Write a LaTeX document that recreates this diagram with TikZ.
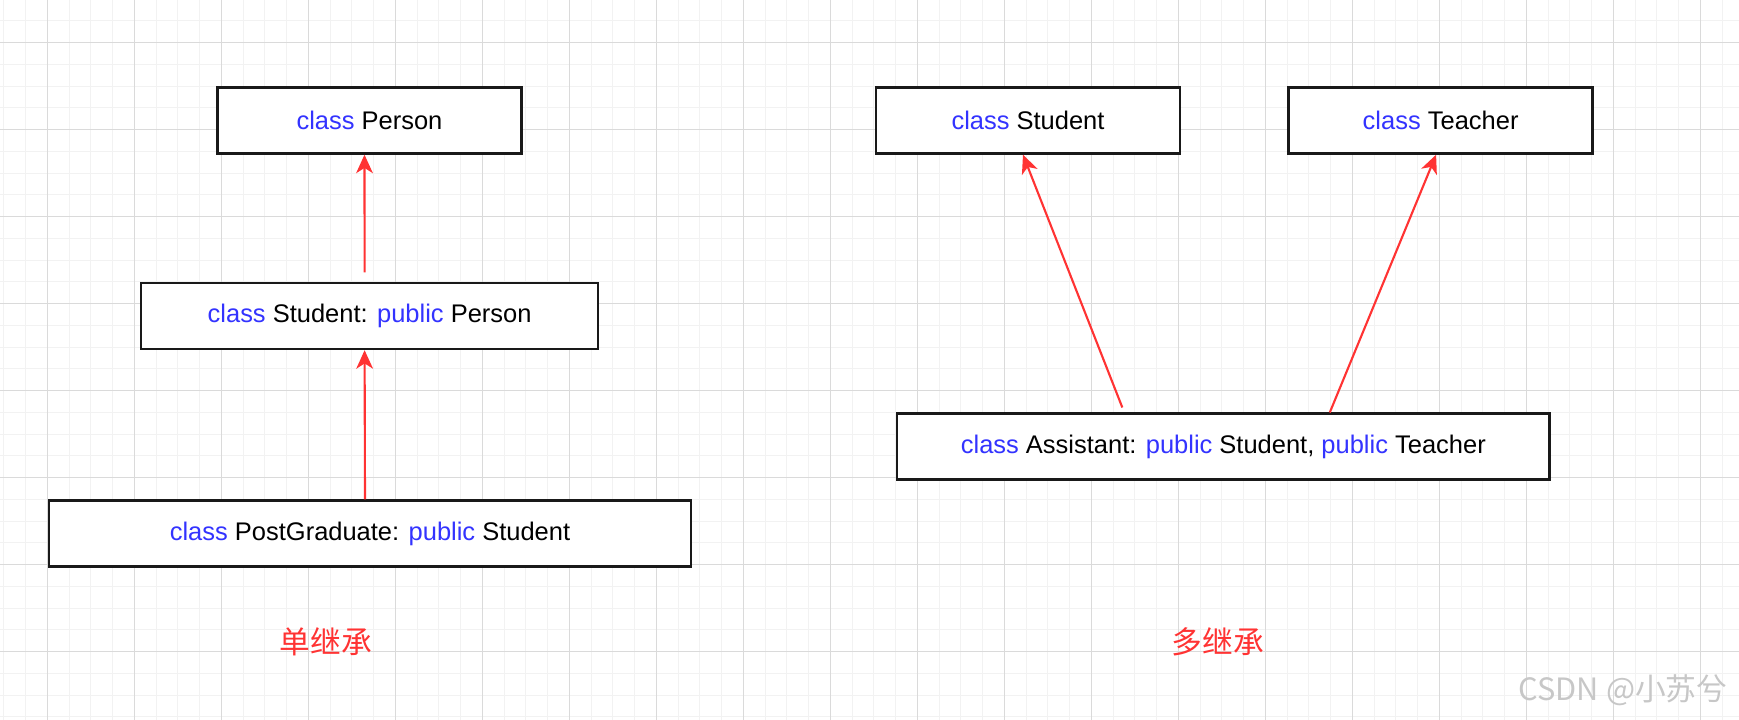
\documentclass[tikz,border=0pt]{standalone}
\usepackage{fontspec}
\setmainfont{Liberation Sans}
\newfontfamily\cjk{Noto Sans CJK SC}
\usetikzlibrary{arrows.meta}
\definecolor{kwblue}{HTML}{3333FF}
\definecolor{inhred}{HTML}{FF3333}
\definecolor{gridminor}{HTML}{F2F2F2}
\definecolor{gridmajor}{HTML}{DADADA}
\newcommand{\kw}[1]{\textcolor{kwblue}{#1}}

\begin{document}
\begin{tikzpicture}[
    x=0.02cm, y=-0.02cm,
    cls/.style={
        rectangle,
        minimum width=#1,
        minimum height=1.32cm,
        draw=black!90,
        line width=1.4pt,
        fill=white,
        inner sep=0pt,
        font=\fontsize{14.5pt}{17pt}\selectfont
    },
    inh/.style={-{Stealth[length=10.5pt, width=9.5pt, inset=3pt]}, line width=1.2pt, inhred},
    kind/.style={font=\cjk\fontsize{17.5pt}{20pt}\selectfont, text=inhred}
]

\useasboundingbox (0,0) rectangle (1739,720);
\fill[white] (0,0) rectangle (1739,720);

% background grid
\foreach \gx in {3.8,25.55,...,1739} \draw[gridminor, line width=0.6pt] (\gx,0) -- (\gx,720);
\foreach \gy in {-0.8,20.95,...,720} \draw[gridminor, line width=0.6pt] (0,\gy) -- (1739,\gy);
\foreach \gx in {47.3,134.3,...,1739} \draw[gridmajor, line width=0.6pt] (\gx,0) -- (\gx,720);
\foreach \gy in {42.7,129.7,...,720} \draw[gridmajor, line width=0.6pt] (0,\gy) -- (1739,\gy);

% single inheritance
\node[cls=6.08cm] (person) at (369.5,120.5) {\kw{class} Person};
\node[cls=9.14cm] (stu) at (369.6,316) {\kw{class} Student: \kw{public} Person};
\node[cls=12.84cm] (pgrad) at (370,533.5) {\kw{class} PostGraduate: \kw{public} Student};

\draw[inh] ([xshift=-0.1cm, yshift=0.19cm]stu.north) -- ([xshift=-0.1cm]person.south);
\draw[inh] ([xshift=-0.1cm]pgrad.north) -- ([xshift=-0.1cm]stu.south);

% multiple inheritance
\node[cls=6.08cm] (stuR) at (1028,120.5) {\kw{class} Student};
\node[cls=6.08cm] (teacher) at (1440.6,120.5) {\kw{class} Teacher};
\node[cls=13.05cm] (asst) at (1223.3,446.7) {\kw{class} Assistant: \kw{public} Student, \kw{public} Teacher};

\draw[inh] ([xshift=-2.02cm, yshift=0.1cm]asst.north) -- ([xshift=-0.1cm]stuR.south);
\draw[inh] ([xshift=2.13cm]asst.north) -- ([xshift=-0.09cm]teacher.south);

% captions
\node[kind] (single) at (326,642) {单继承};
\node[kind] (multi) at (1218,642) {多继承};

\node[font=\cjk\fontsize{17.5pt}{20pt}\selectfont, text=black!22] (mark) at (1623,690) {CSDN @小苏兮};

\end{tikzpicture}
\end{document}
